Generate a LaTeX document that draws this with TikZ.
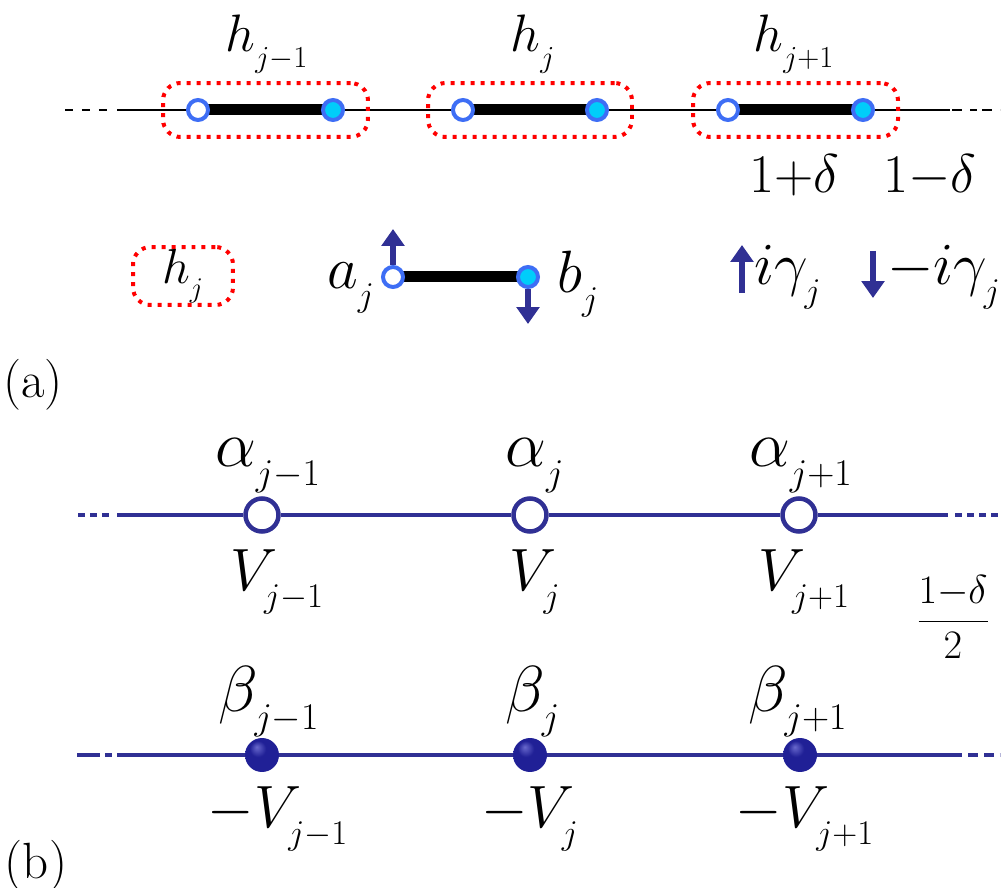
\RequirePackage{fix-cm}
\documentclass[tikz,border=0pt]{standalone}
\usepackage{fontspec}
\usepackage{xcolor}
\usepackage{tikz}
\usetikzlibrary{arrows.meta,backgrounds,fit}
\definecolor{ringblue}{RGB}{62,110,245}
\definecolor{dotcyan}{RGB}{0,205,250}
\definecolor{chainblue}{RGB}{48,48,148}
\definecolor{navyhi}{RGB}{105,105,205}
\definecolor{navymid}{RGB}{32,32,150}
\definecolor{navydark}{RGB}{18,18,95}
\pgfdeclareradialshading{navyball}{\pgfpoint{-8bp}{12bp}}{color(0bp)=(navyhi); color(12bp)=(navymid); color(34bp)=(navymid); color(50bp)=(navydark)}
\makeatletter
\newcommand{\lsub}[1]{_{\lower.14em\hbox{\fontsize{\fpeval{0.58*\f@size}}{0}\selectfont$#1$}}}
\makeatother

\begin{document}
\begin{tikzpicture}[x=0.02cm,y=-0.02cm,
  asite/.style={circle,draw=ringblue,line width=0.08cm,fill=white,minimum size=0.4cm,inner sep=0pt},
  bsite/.style={asite,fill=dotcyan},
  cell/.style={draw=red,line width=0.08cm,dash pattern=on 0.08cm off 0.12cm,rounded corners=0.35cm},
  link/.style={line width=0.04cm},
  bond/.style={line width=0.22cm},
  spin/.style={draw=chainblue,line width=0.13cm,-{Triangle[width=0.45cm,length=0.34cm]}},
  chain/.style={draw=chainblue,line width=0.1cm},
  osite/.style={circle,draw=chainblue,line width=0.09cm,fill=white,minimum size=0.66cm,inner sep=0pt},
  fsite/.style={circle,shading=navyball,minimum size=0.68cm,inner sep=0pt},
  lab/.style={anchor=base,inner sep=0pt},
  hlab/.style={lab,font=\fontsize{30}{34}\selectfont},
  numlab/.style={lab,font=\fontsize{31}{36}\selectfont},
  keylab/.style={lab,font=\fontsize{34}{40}\selectfont},
  greeklab/.style={lab,font=\fontsize{37}{42}\selectfont},
  fraclab/.style={lab,font=\fontsize{23}{27}\selectfont},
  tag/.style={lab,font=\rmfamily\fontsize{29}{34}\selectfont}
]
\useasboundingbox (0,0) rectangle (1001,888);

% (a) chain of dimers
\node[asite] (a1) at (198,110) {};
\node[bsite] (b1) at (333,110) {};
\node[asite] (a2) at (463,110) {};
\node[bsite] (b2) at (597,110) {};
\node[asite] (a3) at (728,110) {};
\node[bsite] (b3) at (863,110) {};
\node[cell,fit=(a1)(b1),inner xsep=0.46cm,inner ysep=0.3cm] (c1) {};
\node[cell,fit=(a2)(b2),inner xsep=0.46cm,inner ysep=0.3cm] (c2) {};
\node[cell,fit=(a3)(b3),inner xsep=0.46cm,inner ysep=0.3cm] (c3) {};
\coordinate (tl0) at (65,110);
\coordinate (tl1) at (112,110);
\coordinate (tl2) at (117,110);
\coordinate (tr2) at (950,110);
\coordinate (tr1) at (952,110);
\coordinate (tr0) at (1000,110);
\node[hlab] (h1) at (267,52) {$h\lsub{j{-}1}$};
\node[hlab] (h2) at (533,52) {$h\lsub{j}$};
\node[hlab] (h3) at (794,52) {$h\lsub{j{+}1}$};
\node[numlab] (hop1) at (794,193) {$1{+}\delta$};
\node[numlab] (hop2) at (930,193) {$1{-}\delta$};

% legend
\node[cell,minimum width=2cm,minimum height=1.16cm,inner sep=0pt,font=\fontsize{28}{32}\selectfont] (key) at (183,276) {$h\lsub{j}$};
\node[asite] (aj) at (393,277) {};
\node[bsite] (bj) at (528,277) {};
\coordinate (ajtip) at (393,229);
\coordinate (bjtip) at (528,324);
\node[keylab] (alab) at (351,289) {$a\lsub{j}$};
\node[keylab] (blab) at (578,293) {$b\lsub{j}$};
\coordinate (upfoot) at (742,293);
\coordinate (uptip) at (742,245);
\coordinate (dnfoot) at (873,251);
\coordinate (dntip) at (873,298);
\node[keylab] (gain) at (788,285) {$i\gamma\lsub{j}$};
\node[keylab] (loss) at (944,285) {$-i\gamma\lsub{j}$};
\draw[spin] (upfoot) -- (uptip);
\draw[spin] (dnfoot) -- (dntip);

\node[tag] (pa) at (33,398) {(a)};
\node[tag] (pb) at (36,878) {(b)};

% (b) decoupled chains
\node[osite] (al1) at (262,515) {};
\node[osite] (al2) at (530,515) {};
\node[osite] (al3) at (799,515) {};
\node[fsite] (be1) at (262,755) {};
\node[fsite] (be2) at (530,755) {};
\node[fsite] (be3) at (800,755) {};
\coordinate (ul0) at (78,515);
\coordinate (ul1) at (112,515);
\coordinate (ul2) at (117,515);
\coordinate (ur2) at (948,515);
\coordinate (ur1) at (955,515);
\coordinate (ur0) at (1000,515);
\coordinate (ll0) at (77,755);
\coordinate (ll1) at (117,755);
\coordinate (lr1) at (952,755);
\coordinate (lr0) at (1000,755);
\node[greeklab] (alpha1) at (268,467) {$\alpha\lsub{j{-}1}$};
\node[greeklab] (alpha2) at (535,467) {$\alpha\lsub{j}$};
\node[greeklab] (alpha3) at (801,467) {$\alpha\lsub{j{+}1}$};
\node[keylab] (v1) at (277,590) {$V\lsub{j{-}1}$};
\node[keylab] (v2) at (535,590) {$V\lsub{j}$};
\node[keylab] (v3) at (804,590) {$V\lsub{j{+}1}$};
\node[fraclab] (frac) at (953,631) {$\displaystyle\frac{1{-}\delta}{2}$};
\node[greeklab] (beta1) at (269,711) {$\beta\lsub{j{-}1}$};
\node[greeklab] (beta2) at (533,711) {$\beta\lsub{j}$};
\node[greeklab] (beta3) at (798,711) {$\beta\lsub{j{+}1}$};
\node[keylab] (mv1) at (278,827) {$-V\lsub{j{-}1}$};
\node[keylab] (mv2) at (530,827) {$-V\lsub{j}$};
\node[keylab] (mv3) at (805,827) {$-V\lsub{j{+}1}$};

\begin{scope}[on background layer]
\draw[link,dash pattern=on 0.16cm off 0.18cm] (tl0) -- (tl1);
\draw[link] (tl2) -- (a1.center) -- (b1.center) -- (a2.center) -- (b2.center) -- (a3.center) -- (b3.center) -- (tr2);
\draw[link,dash pattern=on 0.2cm off 0.16cm on 0.14cm off 0.1cm] (tr1) -- (tr0);
\draw[bond] (a1.center) -- (b1.center);
\draw[bond] (a2.center) -- (b2.center);
\draw[bond] (a3.center) -- (b3.center);
\draw[bond] (aj.center) -- (bj.center);
\draw[spin] (aj) -- (ajtip);
\draw[spin] (bj) -- (bjtip);
\draw[chain,dash pattern=on 0.14cm off 0.1cm] (ul0) -- (ul1);
\draw[chain] (ul2) -- (al1) -- (al2) -- (al3) -- (ur2);
\draw[chain,dash pattern=on 0.14cm off 0.1cm] (ur1) -- (ur0);
\draw[chain,line width=0.09cm,dash pattern=on 0.46cm off 0.1cm on 0.14cm off 0.1cm] (ll0) -- (ll1);
\draw[chain,line width=0.09cm] (ll1) -- (be1) -- (be2) -- (be3) -- (lr1);
\draw[chain,line width=0.09cm,dash pattern=on 0.2cm off 0.12cm] (lr1) -- (lr0);
\end{scope}
\end{tikzpicture}
\end{document}
